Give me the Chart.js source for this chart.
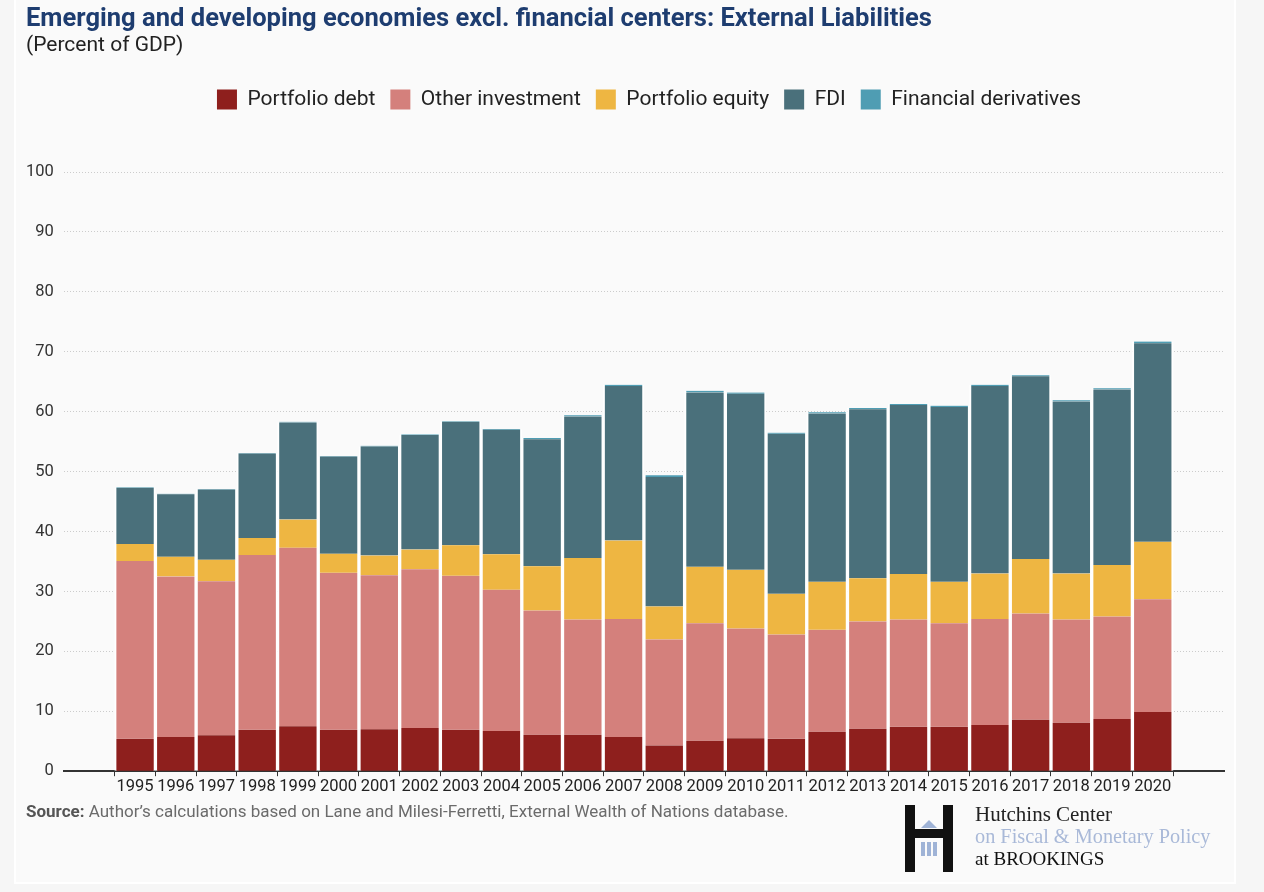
<!DOCTYPE html>
<html>
<head>
<meta charset="utf-8">
<script src="https://cdn.jsdelivr.net/npm/chart.js@4.4.1/dist/chart.umd.min.js"></script>
<style>
  html, body { margin:0; padding:0; }
  body { width:1264px; height:892px; background:#f6f6f6; position:relative; overflow:hidden; font-family:Roboto, "Noto Sans", sans-serif; }
  #card { position:absolute; left:14px; top:-2px; width:1218px; height:882px; background:#fafafa; border:2px solid #ffffff; }
  #wrap { position:absolute; left:0; top:0; width:1264px; height:892px; }
  #title { position:absolute; left:26px; top:4px; font:700 26px/1 Roboto, sans-serif; color:#1e3d70; white-space:nowrap; transform-origin:0 0; }
  #subtitle { position:absolute; left:26px; top:34px; font:400 21px/1 Roboto, sans-serif; color:#222; white-space:nowrap; }
  #source { position:absolute; left:26px; top:803px; font:400 17px/1 Roboto, sans-serif; color:#6b6b6b; white-space:nowrap; }
  #source b { color:#555; font-weight:700; }
  .lg { position:absolute; }
  .serif { position:absolute; left:975px; font-family:"Liberation Serif", "DejaVu Serif", serif; line-height:1; white-space:nowrap; }
</style>
</head>
<body>
<div id="card"></div>
<div id="wrap"><canvas id="c" width="1264" height="892"></canvas></div>
<div id="title"><span id="titleText">Emerging and developing economies excl. financial centers: External Liabilities</span></div>
<div id="subtitle">(Percent of GDP)</div>
<div id="source"><b>Source:</b> Author’s calculations based on Lane and Milesi-Ferretti, External Wealth of Nations database.</div>

<!-- logo -->
<div class="lg" style="left:905px;top:805px;width:10px;height:67px;background:#111;"></div>
<div class="lg" style="left:943px;top:805px;width:10px;height:67px;background:#111;"></div>
<div class="lg" style="left:915px;top:829px;width:28px;height:9px;background:#111;"></div>
<div class="lg" style="left:921px;top:820px;width:0;height:0;border-left:8px solid transparent;border-right:8px solid transparent;border-bottom:8px solid #9fb3d6;"></div>
<div class="lg" style="left:921px;top:842px;width:4px;height:14px;background:#9fb3d6;"></div>
<div class="lg" style="left:927px;top:842px;width:4px;height:14px;background:#9fb3d6;"></div>
<div class="lg" style="left:933px;top:842px;width:4px;height:14px;background:#9fb3d6;"></div>
<div class="serif" style="top:804px;font-size:21px;color:#222;">Hutchins Center</div>
<div class="serif" style="top:826px;font-size:20.3px;color:#a9b9d8;">on Fiscal &amp; Monetary Policy</div>
<div class="serif" style="top:849px;font-size:19px;color:#111;">at BROOKINGS</div>

<script>
// ---- data (percent of GDP) ----
const years = [1995,1996,1997,1998,1999,2000,2001,2002,2003,2004,2005,2006,2007,2008,2009,2010,2011,2012,2013,2014,2015,2016,2017,2018,2019,2020];
const portfolioDebt   = [5.4,5.7,6.0,6.9,7.5,6.9,7.0,7.2,6.9,6.7,6.1,6.1,5.7,4.3,5.1,5.5,5.4,6.6,7.1,7.4,7.4,7.7,8.6,8.1,8.7,9.9];
const otherInvestment = [29.7,26.8,25.7,29.2,29.8,26.2,25.7,26.5,25.7,23.6,20.7,19.2,19.7,17.7,19.6,18.3,17.4,17.0,17.9,17.9,17.3,17.7,17.7,17.2,17.1,18.8];
const portfolioEquity = [2.8,3.3,3.6,2.8,4.7,3.2,3.3,3.3,5.1,5.9,7.4,10.3,13.1,5.5,9.4,9.8,6.8,8.0,7.2,7.6,6.9,7.6,9.1,7.7,8.6,9.6];
const fdi             = [9.4,10.4,11.7,14.1,16.2,16.2,18.2,19.1,20.6,20.8,21.2,23.6,25.8,21.6,29.1,29.4,26.7,28.1,28.2,28.2,29.2,31.3,30.5,28.7,29.3,33.1];
const derivatives     = [0.1,0.1,0.1,0.1,0.1,0.1,0.1,0.1,0.1,0.1,0.2,0.2,0.2,0.3,0.3,0.2,0.2,0.2,0.2,0.2,0.2,0.2,0.2,0.2,0.2,0.3];
const yTicks = [0,10,20,30,40,50,60,70,80,90,100];

const seriesNames  = ['Portfolio debt','Other investment','Portfolio equity','FDI','Financial derivatives'];
const seriesColors = ['#8e1f1d','#d4807c','#eeb642','#4a707b','#4f9db3'];
const seriesData   = [portfolioDebt, otherInvestment, portfolioEquity, fdi, derivatives];

// title condensed to reference width
function fitTitle(){
  const t = document.getElementById('titleText');
  const w = t.getBoundingClientRect().width;
  document.getElementById('title').style.transform = 'scaleX(' + (906 / w) + ')';
}

const legendTweak = {
  id: 'legendTweak',
  beforeLayout(chart) {
    const lg = chart.legend;
    if (lg && !lg._tweaked) {
      const fit = lg.fit;
      lg.fit = function() { fit.call(this); this.height += 52; };
      lg._tweaked = true;
    }
  },
  afterLayout(chart) {
    const lg = chart.legend;
    if (lg) { lg.left += 29; lg.right += 29; }
  }
};

function draw(){
  fitTitle();
  new Chart(document.getElementById('c'), {
    type: 'bar',
    data: {
      labels: years,
      datasets: seriesData.map((d, i) => ({
        label: seriesNames[i],
        data: d,
        backgroundColor: seriesColors[i],
        borderColor: '#ffffff',
        borderWidth: {left: 2, right: 2, top: 0, bottom: 0},
        borderSkipped: false,
        categoryPercentage: 1.0,
        barPercentage: 1.0
      }))
    },
    options: {
      responsive: false,
      animation: false,
      devicePixelRatio: 1,
      layout: { padding: { left: 16, right: 40, top: 74, bottom: 94 } },
      plugins: {
        tooltip: { enabled: false },
        legend: {
          position: 'top',
          align: 'center',
          labels: {
            boxWidth: 20,
            boxHeight: 20,
            padding: 15,
            color: '#222',
            font: { family: 'Roboto', size: 21 },
            generateLabels(chart) {
              const items = Chart.defaults.plugins.legend.labels.generateLabels(chart);
              items.forEach(it => { it.lineWidth = 0; it.strokeStyle = it.fillStyle; });
              return items;
            }
          }
        }
      },
      scales: {
        x: {
          type: 'linear',
          stacked: true,
          min: 1993.25,
          max: 2021.75,
          offset: false,
          afterBuildTicks(axis) { axis.ticks = years.map(v => ({ value: v })); },
          grid: { drawOnChartArea: false, drawTicks: true, tickLength: 5, tickColor: '#333', tickWidth: 1 },
          border: { display: true, color: '#333', width: 2 },
          ticks: {
            autoSkip: false, maxRotation: 0, minRotation: 0, padding: 1,
            color: '#222', font: { family: 'Roboto', size: 16.5 },
            callback: v => String(v)
          }
        },
        y: {
          stacked: true,
          min: 0,
          max: 100,
          afterBuildTicks(axis) { axis.ticks = yTicks.map(v => ({ value: v })); },
          grid: { color: '#cccccc', lineWidth: 1, drawTicks: false },
          border: { display: false, dash: [1, 2] },
          ticks: { padding: 10, color: '#333', font: { family: 'Roboto', size: 16.5 } }
        }
      }
    },
    plugins: [legendTweak]
  });
}
if (document.fonts && document.fonts.load) {
  Promise.all([
    document.fonts.load('700 26px Roboto'),
    document.fonts.load('400 20px Roboto')
  ]).then(draw, draw);
} else { draw(); }
</script>
</body>
</html>
